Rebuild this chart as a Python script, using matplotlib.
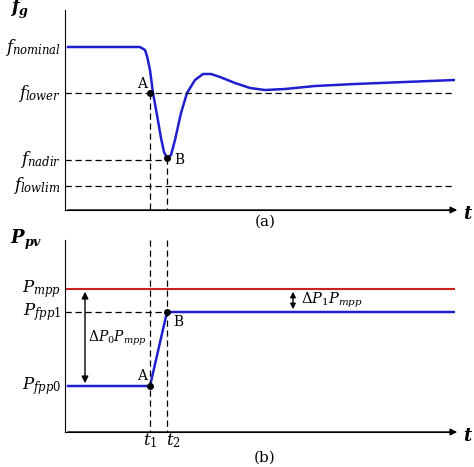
import matplotlib.pyplot as plt
import numpy as np

plt.rcParams['mathtext.fontset'] = 'dejavuserif'
plt.rcParams['font.family'] = 'DejaVu Serif'

# frequency curve (time px, freq px)
ft = [3, 60, 75, 80, 82, 85, 88, 92, 96, 99, 102, 106, 110, 116, 122, 130, 138, 146, 155, 170, 185, 200, 220, 250, 290, 340, 390]
fy = [47, 47, 47, 50, 56, 70, 93, 115, 138, 152, 158, 155, 140, 113, 93, 80, 74, 74, 77, 83, 88, 90, 89, 86, 84, 82, 80]
f_nominal, f_lower, f_nadir, f_lowlim = 47, 93, 160, 186
tA, tB = 85, 102
# power
p_mpp, p_fpp1, p_fpp0 = 289, 312, 386

DASH = (0, (5, 3))
fig = plt.figure(figsize=(4.74, 4.67), dpi=100)
W, H = 474, 467
def mk(top, bot):
    ax = fig.add_axes([65 / W, 1 - bot / H, 390 / W, (bot - top) / H])
    ax.set_xlim(0, 390)
    ax.set_ylim(bot, top)
    for s in ['top', 'right']:
        ax.spines[s].set_visible(False)
    ax.set_xticks([]); ax.set_yticks([])
    ax.annotate('', xy=(395, bot), xytext=(0, bot), xycoords='data',
                arrowprops=dict(arrowstyle='-|>', color='k', lw=1), annotation_clip=False)
    return ax

a1 = mk(10, 210)
a1.plot(ft, fy, color='#1f1fd0', lw=1.8)
a1.plot([0, 390], [f_lower] * 2, color='k', ls=DASH, lw=0.9)
a1.plot([0, tB], [f_nadir] * 2, color='k', ls=DASH, lw=0.9)
a1.plot([0, 390], [f_lowlim] * 2, color='k', ls=DASH, lw=0.9)
a1.plot([tA, tB], [f_lower, 158], 'ko', ms=4)
a1.text(tA - 3, f_lower - 2, 'A', ha='right', va='bottom', fontsize=10)
a1.text(tB + 7, 160, 'B', ha='left', va='center', fontsize=10)
for lab, y in [('nominal', f_nominal), ('lower', f_lower), ('nadir', f_nadir), ('lowlim', f_lowlim)]:
    a1.text(-4, y, '$f_{%s}$' % lab, ha='right', va='center', fontsize=12)
a1.text(-55, 9, r'$\mathbfit{f_g}$', ha='left', va='center', fontsize=13)
a1.text(398, 214, r'$\mathbfit{t}$', fontsize=13, va='center')
a1.text(200, 222, '(a)', ha='center', va='center', fontsize=11)

a2 = mk(240, 432)
a2.plot([0, 390], [p_mpp] * 2, color='#d02020', lw=1.5)
a2.plot([3, tA, tB, 390], [p_fpp0, p_fpp0, p_fpp1, p_fpp1], color='#1f1fd0', lw=1.8)
a2.plot([0, tB], [p_fpp1] * 2, color='k', ls=DASH, lw=0.9)
a2.plot([tA, tB], [p_fpp0, p_fpp1], 'ko', ms=4)
a2.text(tA - 3, p_fpp0 - 3, 'A', ha='right', va='bottom', fontsize=10)
a2.text(tB + 6, p_fpp1 + 10, 'B', ha='left', va='center', fontsize=10)
a1.plot([tA, tA], [f_lower, 210], color='k', ls=DASH, lw=0.9, clip_on=False)
a1.plot([tB, tB], [158, 210], color='k', ls=DASH, lw=0.9, clip_on=False)
a2.plot([tA, tA], [240, 432], color='k', ls=DASH, lw=0.9)
a2.plot([tB, tB], [240, 432], color='k', ls=DASH, lw=0.9)
a2.annotate('', xy=(20, p_mpp), xytext=(20, p_fpp0), arrowprops=dict(arrowstyle='<|-|>', color='k', lw=1))
a2.text(23, 338, r'$\Delta P_0 P_{mpp}$', fontsize=10, va='center')
a2.annotate('', xy=(228, p_mpp), xytext=(228, p_fpp1), arrowprops=dict(arrowstyle='<|-|>', color='k', lw=1, mutation_scale=8))
a2.text(236, 300, r'$\Delta P_1 P_{mpp}$', fontsize=10.5, va='center')
for lab, y in [('mpp', p_mpp), ('fpp1', p_fpp1), ('fpp0', p_fpp0)]:
    a2.text(-4, y, '$P_{%s}$' % lab, ha='right', va='center', fontsize=12)
a2.text(-55, 240, r'$\mathbfit{P_{pv}}$', ha='left', va='center', fontsize=13)
a2.text(tA, 441, '$t_1$', ha='center', va='center', fontsize=12)
a2.text(tB + 6, 441, '$t_2$', ha='center', va='center', fontsize=12)
a2.text(398, 436, r'$\mathbfit{t}$', fontsize=13, va='center')
a2.text(200, 458, '(b)', ha='center', va='center', fontsize=11)

fig.savefig('out.png', dpi=100)
